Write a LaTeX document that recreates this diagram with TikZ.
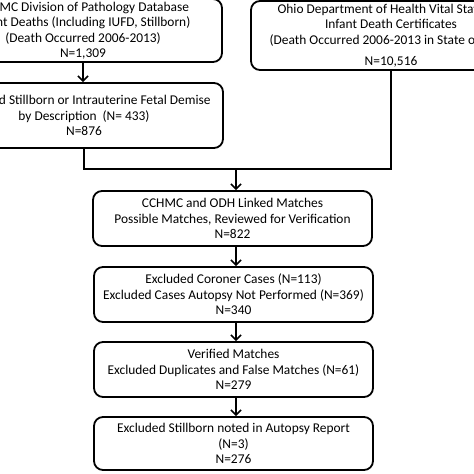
\documentclass[tikz,border=0pt]{standalone}
\usepackage{fontspec}
\setmainfont{Carlito}
\usetikzlibrary{arrows.meta}
\begin{document}
\begin{tikzpicture}[x=1pt,y=-1pt,
 box/.style={draw=black, line width=1.8pt, rounded corners=9pt, fill=white, inner sep=0pt, align=center, font=\fontsize{13.4}{15.5}\selectfont},
 conn/.style={line width=1.6pt, draw=black},
 arr/.style={conn, -{Straight Barb[length=5pt,width=10pt,line width=1.6pt]}}]
\useasboundingbox (0,0) rectangle (474,474);
\clip (0,0) rectangle (474,474);
\fill[white] (0,0) rectangle (474,474);
\node[box, minimum width=278pt, minimum height=63pt] (b1) at (83,30.5)
 {CCHMC Division of Pathology Database\\Infant Deaths (Including IUFD, Stillborn)\\(Death Occurred 2006-2013)\\N=1,309};
\node[box, minimum width=280pt, minimum height=69pt] (bR) at (391,35.5)
 {Ohio Department of Health Vital Statistics\\Infant Death Certificates\\(Death Occurred 2006-2013 in State of Ohio)\\[6pt]N=10,516};
\node[box, minimum width=278pt, minimum height=65pt] (b2) at (84,115.5)
 {Excluded Stillborn or Intrauterine Fetal Demise\\by Description~~(N= 433)\\N=876};
\node[box, minimum width=279pt, minimum height=55pt] (b3) at (232.5,218.5)
 {CCHMC and ODH Linked Matches\\Possible Matches, Reviewed for Verification\\N=822};
\node[box, minimum width=279pt, minimum height=55pt] (b4) at (233.5,294.5)
 {Excluded Coroner Cases (N=113)\\Excluded Cases Autopsy Not Performed (N=369)\\N=340};
\node[box, minimum width=279pt, minimum height=55pt] (b5) at (233.5,369.5)
 {Verified Matches\\Excluded Duplicates and False Matches (N=61)\\N=279};
\node[box, minimum width=279pt, minimum height=53pt] (b6) at (233.5,443.5)
 {Excluded Stillborn noted in Autopsy Report\\(N=3)\\N=276};
\coordinate (j) at (236,169);
\draw[arr] (b1.south) -- (b1.south |- b2.north);
\draw[conn] (b2.south) |- (j);
\draw[conn] (bR.south) |- (j);
\draw[arr] (j) -- (j |- b3.north);
\draw[arr] (b3.south -| j) -- (b4.north -| j);
\draw[arr] (b4.south -| j) -- (b5.north -| j);
\draw[arr] (b5.south -| j) -- (b6.north -| j);
\end{tikzpicture}
\end{document}
